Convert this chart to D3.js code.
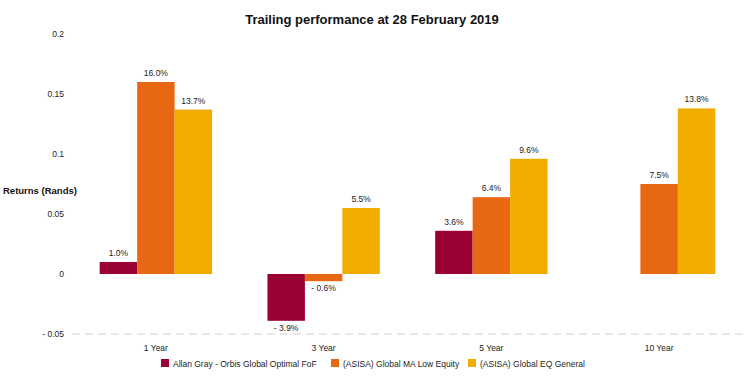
<!DOCTYPE html>
<html><head><meta charset="utf-8">
<script src="https://cdn.jsdelivr.net/npm/d3@7"></script>
<style>
body{margin:0;background:#fff;}
text{font-family:"Liberation Sans Narrow","Liberation Sans",Arial,sans-serif;}
</style></head>
<body><svg id="c" width="745" height="379"></svg>
<script>
const categories = ["1 Year","3 Year","5 Year","10 Year"];
const seriesNames = ["Allan Gray - Orbis Global Optimal FoF","(ASISA) Global MA Low Equity","(ASISA) Global EQ General"];
const allanGray = [0.010, -0.039, 0.036, null];
const maLowEquity = [0.160, -0.006, 0.064, 0.075];
const eqGeneral = [0.137, 0.055, 0.096, 0.138];
const yTicks = [-0.05, 0, 0.05, 0.1, 0.15, 0.2];
const yTickLabels = ["- 0.05","0","0.05","0.1","0.15","0.2"];
const colors = ["#9B0034","#E86712","#F0AD00"];

const series = [allanGray, maLowEquity, eqGeneral];
const svg = d3.select("#c");
const x = d3.scaleBand().domain(categories).range([72, 743]).paddingInner(0.33).paddingOuter(0.165);
const xs = d3.scaleBand().domain(d3.range(3)).range([0, x.bandwidth()]);
const y = d3.scaleLinear().domain([-0.05, 0.2]).range([334, 34]);

// title
svg.append("text").attr("x", 372).attr("y", 24).attr("text-anchor","middle")
  .attr("font-size", 13).attr("font-weight","bold").attr("fill","#111")
  .text("Trailing performance at 28 February 2019");

// y axis labels
const yAxis = d3.axisLeft(y).tickValues(yTicks).tickSize(0).tickPadding(0)
  .tickFormat((d,i)=>yTickLabels[i]);
const ga = svg.append("g").attr("transform","translate(64,0)").call(yAxis);
ga.select(".domain").remove();
ga.selectAll("text").attr("font-size", 8.5).attr("fill","#222").attr("font-family",null);

svg.append("text").attr("x", 3).attr("y", 194).attr("font-size", 9.5).attr("font-weight","bold")
  .attr("fill","#111").text("Returns (Rands)");

// dashed baseline at bottom
svg.append("line").attr("x1", 72).attr("x2", 745).attr("y1", y(-0.05)).attr("y2", y(-0.05))
  .attr("stroke","#d0d0d0").attr("stroke-width",1).attr("stroke-dasharray","8,5");

// bars
const fmt = v => (v < 0 ? "- " : "") + (Math.abs(v)*100).toFixed(1) + "%";
series.forEach((vals, si) => {
  const g = svg.append("g");
  vals.forEach((v, ci) => {
    if (v === null) return;
    const bx = x(categories[ci]) + xs(si);
    g.append("rect").attr("x", bx).attr("width", xs.bandwidth())
      .attr("y", y(Math.max(0, v))).attr("height", Math.abs(y(v) - y(0)))
      .attr("fill", colors[si]);
    g.append("text").attr("x", bx + xs.bandwidth()/2)
      .attr("y", v >= 0 ? y(v) - 6 : y(v) + 10)
      .attr("text-anchor","middle").attr("font-size", 8.5).attr("fill","#222")
      .text(fmt(v));
  });
});

// category labels
categories.forEach(c => {
  svg.append("text").attr("x", x(c) + x.bandwidth()/2).attr("y", 351)
    .attr("text-anchor","middle").attr("font-size", 8.5).attr("fill","#222").text(c);
});

// legend
const legendX = [161, 331, 468];
seriesNames.forEach((n, i) => {
  svg.append("rect").attr("x", legendX[i]).attr("y", 359).attr("width", 8).attr("height", 8).attr("fill", colors[i]);
  svg.append("text").attr("x", legendX[i] + 12).attr("y", 366.5).attr("font-size", 8.5).attr("fill","#222").text(n);
});
</script></body></html>
